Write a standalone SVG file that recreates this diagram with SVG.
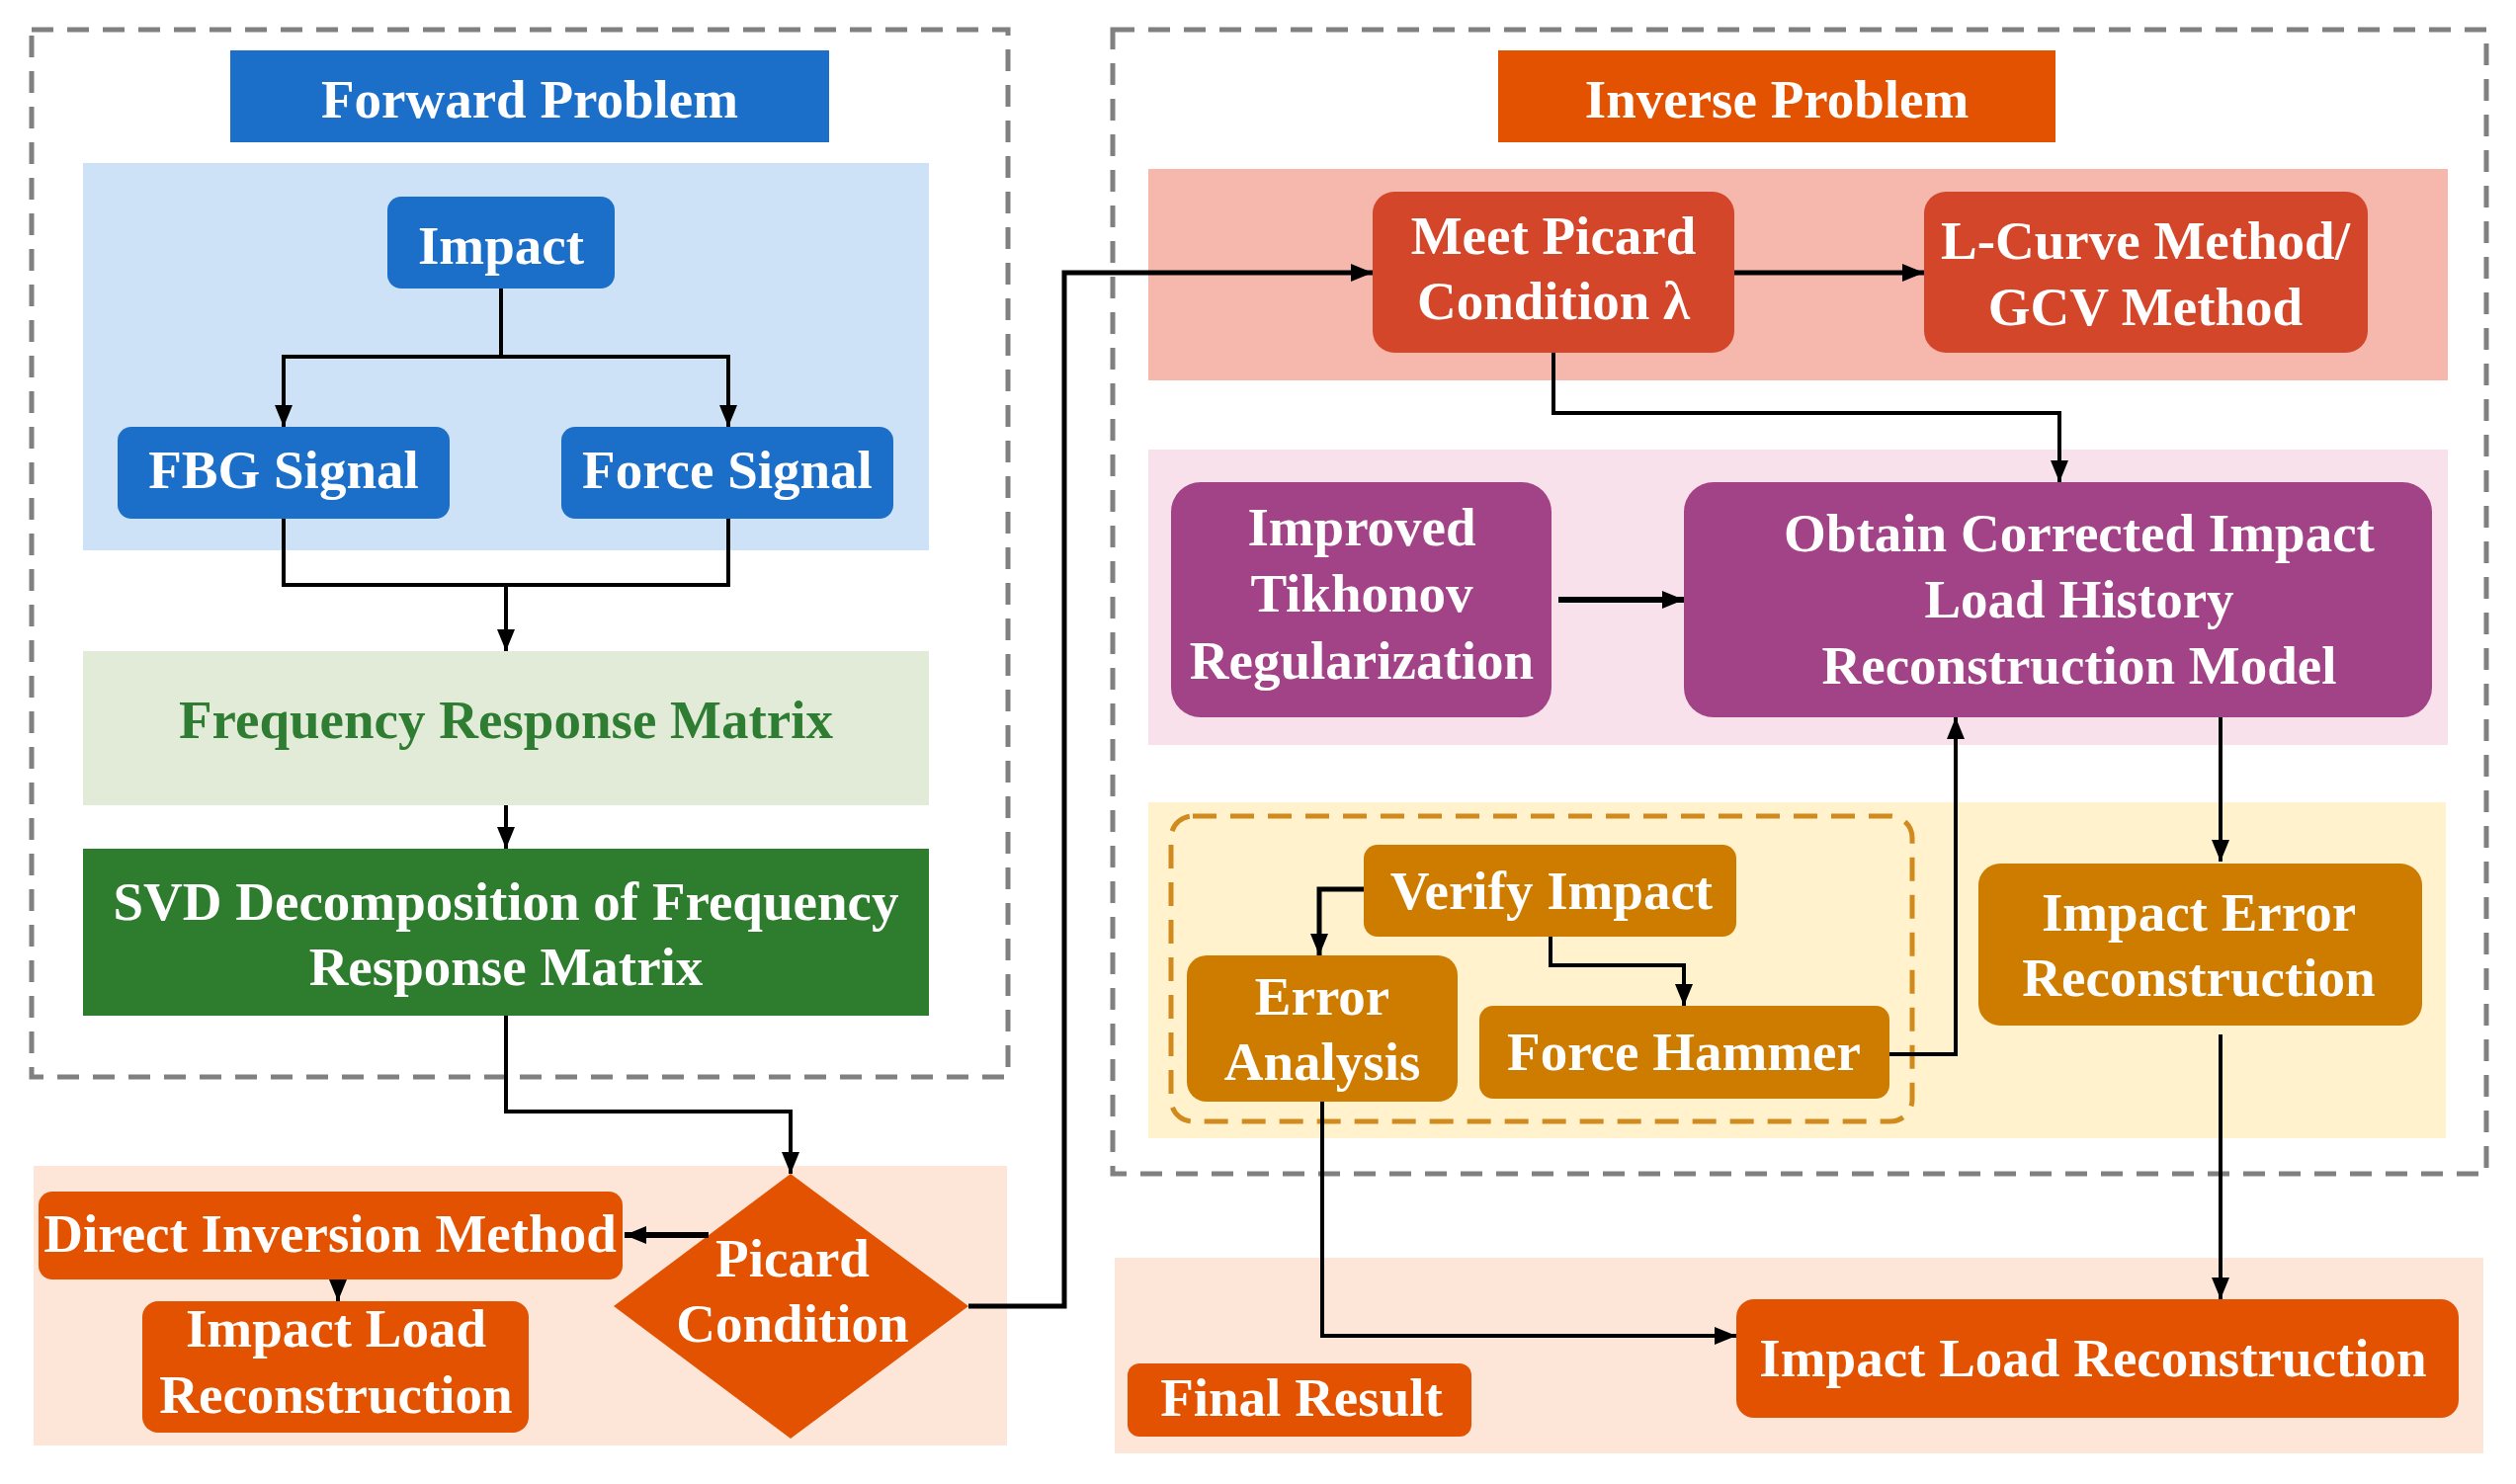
<svg xmlns="http://www.w3.org/2000/svg" width="2546" height="1502" viewBox="0 0 2546 1502">
<style>
text{font-family:"Liberation Serif","Times New Roman",serif;font-weight:bold;font-size:55px;text-anchor:middle;fill:#fff}
.dash{fill:none;stroke:#808080;stroke-width:5;stroke-dasharray:22 14}
.conn path{fill:none;stroke:#000;stroke-width:4}
.blue{fill:#1c6fc9}.orange{fill:#e25200}.red{fill:#d4462a}.purple{fill:#a24387}.ochre{fill:#cd7c00}
</style>
<defs>
<marker id="ah" markerUnits="userSpaceOnUse" markerWidth="22" markerHeight="18" viewBox="0 0 22 18" refX="22" refY="9" orient="auto">
<path d="M0,0 L22,9 L0,18 z" fill="#000"/>
</marker>
</defs>
<rect width="2546" height="1502" fill="#fff"/>
<!-- panels -->
<g id="panels">
<rect class="dash" x="32" y="30" width="988" height="1060"/>
<rect class="dash" x="1126" y="30" width="1390" height="1158"/>
<rect x="84" y="165" width="856" height="392" fill="#cde2f6"/>
<rect x="84" y="659" width="856" height="156" fill="#e2ebd8"/>
<rect x="34" y="1180" width="985" height="283" fill="#fde6d8"/>
<rect x="1162" y="171" width="1315" height="214" fill="#f6b8ad"/>
<rect x="1162" y="455" width="1315" height="299" fill="#f8e1eb"/>
<rect x="1162" y="812" width="1313" height="340" fill="#fff2cc"/>
<rect x="1185" y="826" width="750" height="309" rx="22" fill="none" stroke="#d08a1e" stroke-width="5" stroke-dasharray="24 14"/>
<rect x="1128" y="1273" width="1385" height="198" fill="#fde6d8"/>
</g>
<g id="forward-problem"><rect x="233" y="51" width="606" height="93" class="blue"/><text x="536" y="119">Forward Problem</text></g>
<g id="inverse-problem"><rect x="1516" y="51" width="564" height="93" class="orange"/><text x="1798" y="119">Inverse Problem</text></g>
<g id="impact"><rect x="392" y="199" width="230" height="93" rx="14" class="blue"/><text x="507" y="267">Impact</text></g>
<g id="fbg-signal"><rect x="119" y="432" width="336" height="93" rx="14" class="blue"/><text x="287" y="494">FBG Signal</text></g>
<g id="force-signal"><rect x="568" y="432" width="336" height="93" rx="14" class="blue"/><text x="736" y="494">Force Signal</text></g>
<g id="frm"><text x="512" y="747" style="fill:#2e7d32">Frequency Response Matrix</text></g>
<g id="svd"><rect x="84" y="859" width="856" height="169" fill="#2e7d2e"/><text x="512" y="931">SVD Decomposition of Frequency</text><text x="512" y="997">Response Matrix</text></g>
<g id="picard"><polygon points="800,1188 980,1322 800,1456 621,1322" class="orange"/><text x="802" y="1292">Picard</text><text x="802" y="1358">Condition</text></g>
<g id="direct-inversion"><rect x="39" y="1206" width="591" height="89" rx="14" class="orange"/><text x="334" y="1267">Direct Inversion Method</text></g>
<g id="impact-load-left"><rect x="144" y="1317" width="391" height="133" rx="16" class="orange"/><text x="340" y="1363">Impact Load</text><text x="340" y="1430">Reconstruction</text></g>
<g id="meet-picard"><rect x="1389" y="194" width="366" height="163" rx="22" class="red"/><text x="1572" y="257">Meet Picard</text><text x="1572" y="323">Condition λ</text></g>
<g id="lcurve"><rect x="1947" y="194" width="449" height="163" rx="22" class="red"/><text x="2171" y="262">L-Curve Method/</text><text x="2171" y="329">GCV Method</text></g>
<g id="tikhonov"><rect x="1185" y="488" width="385" height="238" rx="30" class="purple"/><text x="1378" y="552">Improved</text><text x="1378" y="619">Tikhonov</text><text x="1378" y="687">Regularization</text></g>
<g id="obtain"><rect x="1704" y="488" width="757" height="238" rx="30" class="purple"/><text x="2104" y="558">Obtain Corrected Impact</text><text x="2104" y="625">Load History</text><text x="2104" y="692">Reconstruction Model</text></g>
<g id="verify-impact"><rect x="1380" y="855" width="377" height="93" rx="14" class="ochre"/><text x="1570" y="920">Verify Impact</text></g>
<g id="error-analysis"><rect x="1201" y="967" width="274" height="148" rx="20" class="ochre"/><text x="1338" y="1027">Error</text><text x="1338" y="1093">Analysis</text></g>
<g id="force-hammer"><rect x="1497" y="1018" width="415" height="94" rx="14" class="ochre"/><text x="1704" y="1083">Force Hammer</text></g>
<g id="impact-error"><rect x="2002" y="874" width="449" height="164" rx="22" class="ochre"/><text x="2225" y="942">Impact Error</text><text x="2225" y="1008">Reconstruction</text></g>
<g id="impact-load-final"><rect x="1757" y="1315" width="731" height="120" rx="18" class="orange"/><text x="2118" y="1393">Impact Load Reconstruction</text></g>
<g id="final-result"><rect x="1141" y="1380" width="348" height="74" rx="12" class="orange"/><text x="1317" y="1433">Final Result</text></g>
<g class="conn" id="connectors">
<path d="M507,292 V361 H287 V432" marker-end="url(#ah)"/>
<path d="M507,361 H737 V432" marker-end="url(#ah)"/>
<path d="M287,525 V592 H512 V659" marker-end="url(#ah)"/>
<path d="M737,525 V592 H512"/>
<path d="M512,815 V859" marker-end="url(#ah)"/>
<path d="M512,1028 V1125 H800 V1188" marker-end="url(#ah)"/>
<path d="M717,1250 H632" marker-end="url(#ah)" style="stroke-width:6"/>
<path d="M342,1295 V1317" marker-end="url(#ah)"/>
<path d="M980,1322 H1077 V276 H1389" marker-end="url(#ah)" style="stroke-width:5"/>
<path d="M1755,276 H1947" marker-end="url(#ah)" style="stroke-width:5"/>
<path d="M1572,357 V418 H2084 V488" marker-end="url(#ah)"/>
<path d="M1577,607 H1704" marker-end="url(#ah)" style="stroke-width:6"/>
<path d="M1912,1067 H1979 V726" marker-end="url(#ah)"/>
<path d="M2247,726 V872" marker-end="url(#ah)"/>
<path d="M2247,1047 V1315" marker-end="url(#ah)"/>
<path d="M1380,900 H1335 V967" marker-end="url(#ah)" style="stroke-width:5"/>
<path d="M1569,948 V977 H1704 V1018" marker-end="url(#ah)"/>
<path d="M1338,1115 V1352 H1757" marker-end="url(#ah)"/>
</g>
</svg>
